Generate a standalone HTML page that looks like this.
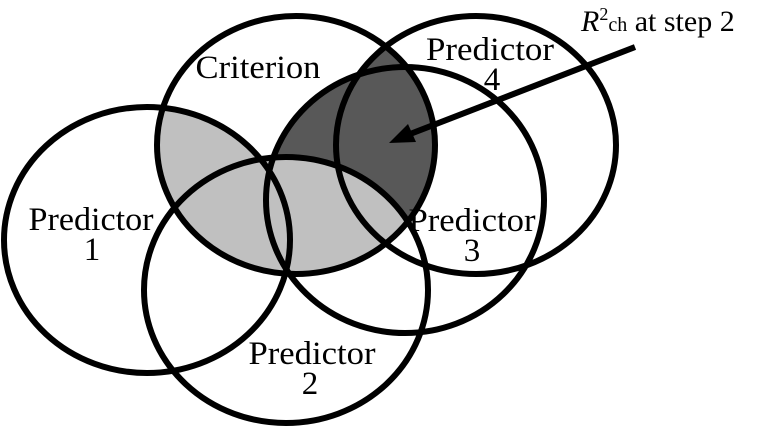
<!DOCTYPE html>
<html><head><meta charset="utf-8"><style>html,body{margin:0;padding:0;background:#fff}svg{display:block}</style></head><body>
<svg width="768" height="433" viewBox="0 0 768 433" xmlns="http://www.w3.org/2000/svg" font-family="Liberation Serif, serif" font-size="33">
<defs>
<clipPath id="cc"><ellipse cx="296" cy="145" rx="139" ry="129"/></clipPath>
</defs>
<g clip-path="url(#cc)">
<ellipse cx="405" cy="200" rx="139" ry="133" fill="#585858"/>
<ellipse cx="476" cy="145" rx="140" ry="129" fill="#585858"/>
<ellipse cx="147" cy="240" rx="143" ry="133" fill="#c0c0c0"/>
<ellipse cx="286" cy="290" rx="142" ry="133" fill="#c0c0c0"/>
</g>
<g fill="none" stroke="#000" stroke-width="6">
<ellipse cx="296" cy="145" rx="139" ry="129"/>
<ellipse cx="147" cy="240" rx="143" ry="133"/>
<ellipse cx="286" cy="290" rx="142" ry="133"/>
<ellipse cx="405" cy="200" rx="139" ry="133"/>
<ellipse cx="476" cy="145" rx="140" ry="129"/>
<line x1="635" y1="47" x2="405" y2="136"/>
</g>
<polygon points="389,143 408,124 416,142" fill="#000"/>
<g text-anchor="middle">
<text x="258" y="78" textLength="125" lengthAdjust="spacingAndGlyphs">Criterion</text>
<text x="490" y="60" textLength="128" lengthAdjust="spacingAndGlyphs">Predictor</text><text x="492" y="90">4</text>
<text x="91" y="230" textLength="125" lengthAdjust="spacingAndGlyphs">Predictor</text><text x="92" y="260">1</text>
<text x="472" y="231" textLength="127" lengthAdjust="spacingAndGlyphs">Predictor</text><text x="472" y="261">3</text>
<text x="312" y="364" textLength="127" lengthAdjust="spacingAndGlyphs">Predictor</text><text x="310" y="394">2</text>
</g>
<text x="581" y="31" font-size="30"><tspan font-style="italic">R</tspan><tspan font-size="18" dy="-11">2</tspan><tspan font-size="20" dy="11">ch</tspan> at step 2</text>
</svg>
</body></html>
